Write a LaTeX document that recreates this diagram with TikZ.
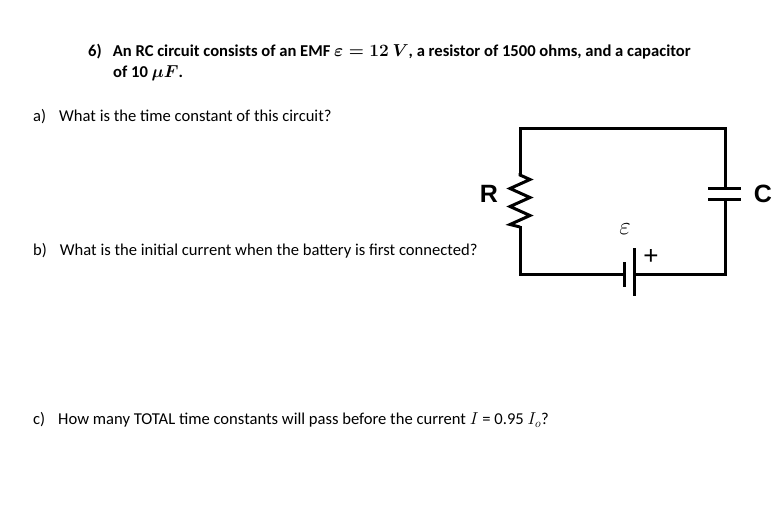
\documentclass[tikz,border=0pt]{standalone}
\usepackage{fontspec}
\setmainfont{Carlito}
\newfontfamily\arialfont{Liberation Sans}
\usepackage{amsmath}
\begin{document}
\begin{tikzpicture}[x=1pt,y=-1pt,
  txt/.style={anchor=west,inner sep=0pt,font=\fontsize{16.6}{19}\selectfont},
  wire/.style={line width=3pt,line cap=rect},
  lbl/.style={inner sep=0pt,font=\fontsize{25}{28}\selectfont\arialfont\bfseries}]
\useasboundingbox (0,0) rectangle (778,532);
\node[txt,font=\fontsize{16.6}{19}\selectfont\bfseries\boldmath] (q) at (88,52) {6)\hspace{11pt}An RC circuit consists of an EMF $\varepsilon=12\ V$, a resistor of 1500 ohms, and a capacitor};
\node[txt,font=\fontsize{16.6}{19}\selectfont\bfseries\boldmath] (q2) at (113,73) {of 10 $\mu F$.};
\node[txt] (a) at (33,117) {a)\hspace{13pt}What is the time constant of this circuit?};
\node[txt] (b) at (33,251) {b)\hspace{13pt}What is the initial current when the battery is first connected?};
\node[txt] (c) at (33,420) {c)\hspace{13pt}How many TOTAL time constants will pass before the current $I$ = 0.95 $I_o$?};
% circuit
\coordinate (tl) at (520,128);
\coordinate (tr) at (725,128);
\coordinate (bl) at (520,274);
\coordinate (br) at (725,274);
\coordinate (r1) at (520,173);
\coordinate (r2) at (520,227);
\coordinate (c1) at (725,188);
\coordinate (c2) at (725,199);
\coordinate (b1) at (624,274);
\coordinate (b2) at (634,274);
\draw[wire] (r1) -- (tl) -- (tr) -- (c1);
\draw[wire] (c2) -- (br) -- (b2);
\draw[wire] (b1) -- (bl) -- (r2);
\draw[wire,line cap=butt] (r1) -- ++(0,2) -- ++(10,4.5) -- ++(-20,9) -- ++(20,9) -- ++(-20,9) -- ++(20,9) -- ++(-20,9) -- ++(10,2.5) -- (r2);
\draw[wire,line cap=butt] (708,188) -- (741,188) (708,199) -- (741,199);
\draw[wire,line cap=butt] (624,262) -- (624,287) (634,248) -- (634,296);
\node[lbl] (R) at (489,194) {R};
\node[lbl] (C) at (763,194) {C};
\node[inner sep=0pt,font=\fontsize{26}{28}\selectfont] (E) at (625,229) {$\varepsilon$};
\node[inner sep=0pt,font=\fontsize{26}{28}\selectfont\arialfont] (P) at (651,257) {+};
\end{tikzpicture}
\end{document}
